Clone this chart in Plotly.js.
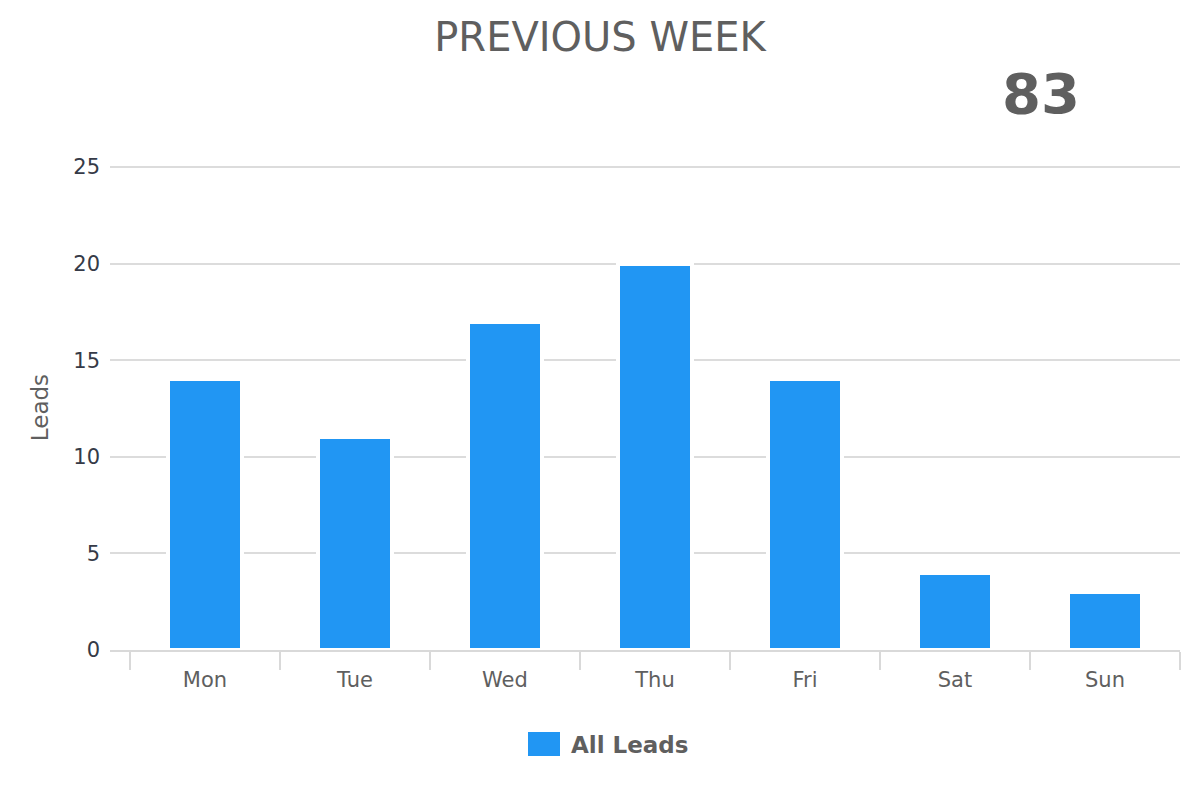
<!DOCTYPE html>
<html>
<head>
<meta charset="utf-8">
<script src="https://cdn.plot.ly/plotly-3.0.1.min.js"></script>
<style>
  html, body { margin: 0; padding: 0; background: #fff; }
  #chart { width: 1200px; height: 800px; }
</style>
</head>
<body>
<div id="chart"></div>
<script>
// data
var days = ['Mon', 'Tue', 'Wed', 'Thu', 'Fri', 'Sat', 'Sun'];
var leads = [14, 11, 17, 20, 14, 4, 3];
var seriesName = 'All Leads';
var yTicks = [0, 5, 10, 15, 20, 25];

var total = leads.reduce(function (a, b) { return a + b; }, 0);

// plot box in pixels, used to place the header number and legend key
var plotLeft = 110, plotWidth = 1070, plotBottom = 650, plotHeight = 485;
function px(x) { return (x - plotLeft) / plotWidth; }
function py(y) { return (plotBottom - y) / plotHeight; }

function drawChart() {
    var trace = {
        type: 'bar',
        x: days,
        y: leads,
        name: seriesName,
        width: 0.49,
        marker: {
            color: '#2196f3',
            line: { color: '#ffffff', width: 4 }
        },
        hoverinfo: 'x+y'
    };

    var layout = {
        width: 1200,
        height: 800,
        margin: { l: 110, r: 20, t: 165, b: 150 },
        paper_bgcolor: '#ffffff',
        plot_bgcolor: '#ffffff',
        font: { family: 'DejaVu Sans, sans-serif', color: '#595959' },
        showlegend: false,
        bargap: 0,
        title: {
            text: 'PREVIOUS WEEK',
            font: { size: 40, color: '#5f5f5f' },
            x: 0.5,
            xanchor: 'center',
            xref: 'container',
            y: 0.954,
            yanchor: 'middle',
            yref: 'container'
        },
        xaxis: {
            type: 'category',
            range: [-0.633, 6.5],
            showgrid: false,
            showline: true,
            linecolor: '#d9d9d9',
            linewidth: 2,
            ticks: 'outside',
            tickson: 'boundaries',
            ticklen: 18,
            tickwidth: 2,
            tickcolor: '#d9d9d9',
            ticklabelstandoff: 10,
            tickfont: { size: 21, color: '#5f5f5f' },
            fixedrange: true
        },
        yaxis: {
            range: [0, 25.1],
            tickvals: yTicks,
            ticktext: yTicks.map(String),
            showgrid: true,
            gridcolor: '#dcdcdc',
            gridwidth: 2,
            zeroline: false,
            showline: false,
            ticks: '',
            ticklabelstandoff: 9,
            tickfont: { size: 21, color: '#353a47' },
            title: {
                text: 'Leads',
                font: { size: 23, color: '#5f5f5f' },
                standoff: 18
            },
            fixedrange: true
        },
        annotations: [
            {
                text: '<b>' + total + '</b>',
                xref: 'paper', yref: 'paper',
                x: px(1041), y: py(93),
                xanchor: 'center', yanchor: 'middle',
                showarrow: false,
                font: { size: 56, color: '#5f5f5f' }
            },
            {
                text: '<b>' + seriesName + '</b>',
                xref: 'paper', yref: 'paper',
                x: px(569), y: py(745),
                xanchor: 'left', yanchor: 'middle',
                showarrow: false,
                font: { size: 23, color: '#5f5f5f' }
            }
        ],
        shapes: [
            {
                type: 'rect',
                xref: 'paper', yref: 'paper',
                x0: px(528), x1: px(560),
                y0: py(756), y1: py(732),
                fillcolor: '#2196f3',
                line: { width: 0 }
            }
        ]
    };

    Plotly.newPlot('chart', [trace], layout, { displayModeBar: false, responsive: false });
}

window.addEventListener('load', drawChart, false);
</script>
</body>
</html>
